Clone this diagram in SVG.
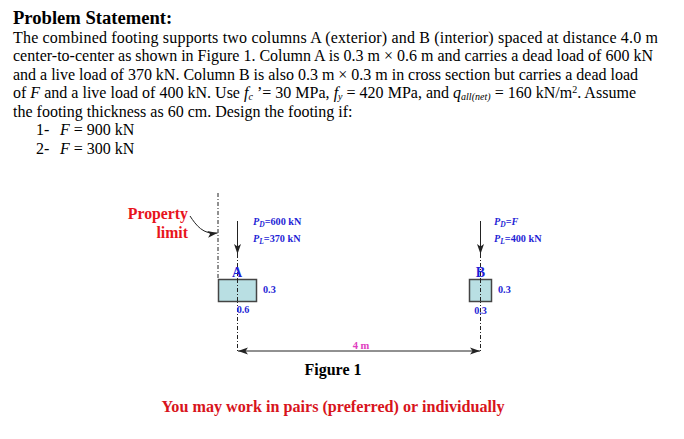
<svg xmlns="http://www.w3.org/2000/svg" width="684" height="439" viewBox="0 0 684 439">
<style>
text{font-family:"Liberation Serif","Times New Roman",serif}
.b{font-size:16px;fill:#000}
.h{font-size:18.6px;font-weight:bold;fill:#000}
.n{font-size:10.2px;font-weight:bold;fill:#1f1fd6}
.i{font-style:italic}
.cl{stroke:#222;stroke-width:1;stroke-dasharray:4 2 1 2;fill:none}
.col{fill:#b9dfe3;stroke:#444;stroke-width:1.5}
.ar{stroke:#222;stroke-width:1;fill:none}
</style>
<defs>
<marker id="ah" markerWidth="11" markerHeight="8" refX="10" refY="4" orient="auto" markerUnits="userSpaceOnUse"><path d="M0 0.500L10 4L0 7.500L2.500 4Z" fill="#222"/></marker>
</defs>
<rect width="684" height="439" fill="#fff"/>
<g id="statement">
<text class="h" x="13" y="24">Problem Statement:</text>
<text class="b" x="13" y="42.500" textLength="645">The combined footing supports two columns A (exterior) and B (interior) spaced at distance 4.0 m</text>
<text class="b" x="13" y="61" textLength="640">center-to-center as shown in Figure 1. Column A is 0.3 m × 0.6 m and carries a dead load of 600 kN</text>
<text class="b" x="13" y="79.500" textLength="625">and a live load of 370 kN. Column B is also 0.3 m × 0.3 m in cross section but carries a dead load</text>
<text class="b" x="13" y="98" textLength="623">of <tspan class="i">F</tspan> and a live load of 400 kN. Use <tspan class="i">f<tspan font-size="10" dy="2">c</tspan></tspan><tspan dy="-2"> ’= 30 MPa, </tspan><tspan class="i">f<tspan font-size="10" dy="2">y</tspan></tspan><tspan dy="-2"> = 420 MPa, and </tspan><tspan class="i">q<tspan font-size="10" dy="2">all(net)</tspan></tspan><tspan dy="-2"> = 160 kN/m</tspan><tspan font-size="10" dy="-5">2</tspan><tspan dy="5">. Assume</tspan></text>
<text class="b" x="13" y="116.500">the footing thickness as 60 cm. Design the footing if:</text>
<text class="b" x="36" y="135">1-</text><text class="b" x="60" y="135"><tspan class="i">F</tspan> = 900 kN</text>
<text class="b" x="36" y="153.500">2-</text><text class="b" x="60" y="153.500"><tspan class="i">F</tspan> = 300 kN</text>
</g>
<g id="connectors">
<path class="cl" d="M218 193V279"/>
<path class="cl" d="M237.500 254V351"/>
<path class="cl" d="M480.500 254V351"/>
<path class="ar" d="M237.500 221V254" marker-end="url(#ah)"/>
<path class="ar" d="M480.500 221V254" marker-end="url(#ah)"/>
<path class="ar" d="M238 351H480" marker-end="url(#ah)"/>
<path d="M238 351L248 347.500L245.500 351L248 354.500Z" fill="#222"/>
<path class="ar" d="M190 216C196 225 203 235 217.500 233" marker-end="url(#ah)"/>
</g>
<g id="property-limit">
<text x="188" y="219" text-anchor="end" font-size="15.800" font-weight="bold" fill="#e8141c">Property</text>
<text x="188" y="238" text-anchor="end" font-size="15.800" font-weight="bold" fill="#e8141c">limit</text>
</g>
<g id="column-a">
<rect class="col" x="218.500" y="279.500" width="38" height="22"/>
<path class="cl" d="M237.500 279V302"/>
<text x="237" y="277" text-anchor="middle" font-size="14" font-weight="bold" fill="#1f1fd6">A</text>
<text class="n" x="263" y="293">0.3</text>
<text class="n" x="243" y="313" text-anchor="middle">0.6</text>
<text class="n" x="253" y="225"><tspan class="i">P</tspan><tspan font-size="7.500" class="i" dy="2">D</tspan><tspan dy="-2">=600 kN</tspan></text>
<text class="n" x="253" y="242"><tspan class="i">P</tspan><tspan font-size="7.500" class="i" dy="2">L</tspan><tspan dy="-2">=370 kN</tspan></text>
</g>
<g id="column-b">
<rect class="col" x="469.500" y="279.500" width="22" height="22"/>
<path class="cl" d="M480.500 279V302"/>
<text x="480.500" y="277" text-anchor="middle" font-size="14" font-weight="bold" fill="#1f1fd6">B</text>
<text class="n" x="498" y="293">0.3</text>
<text class="n" x="480.500" y="313.500" text-anchor="middle">0.3</text>
<text class="n" x="494" y="225"><tspan class="i">P</tspan><tspan font-size="7.500" class="i" dy="2">D</tspan><tspan dy="-2">=</tspan><tspan class="i">F</tspan></text>
<text class="n" x="494" y="242"><tspan class="i">P</tspan><tspan font-size="7.500" class="i" dy="2">L</tspan><tspan dy="-2">=400 kN</tspan></text>
</g>
<g id="dimension">
<text x="361" y="349" text-anchor="middle" font-size="10.500" font-weight="bold" fill="#e040c0">4 m</text>
</g>
<g id="caption">
<text x="333" y="375" text-anchor="middle" font-size="16" font-weight="bold" fill="#000">Figure 1</text>
<text x="333" y="412" text-anchor="middle" font-size="16.150" font-weight="bold" fill="#d8141c">You may work in pairs (preferred) or individually</text>
</g>
</svg>
